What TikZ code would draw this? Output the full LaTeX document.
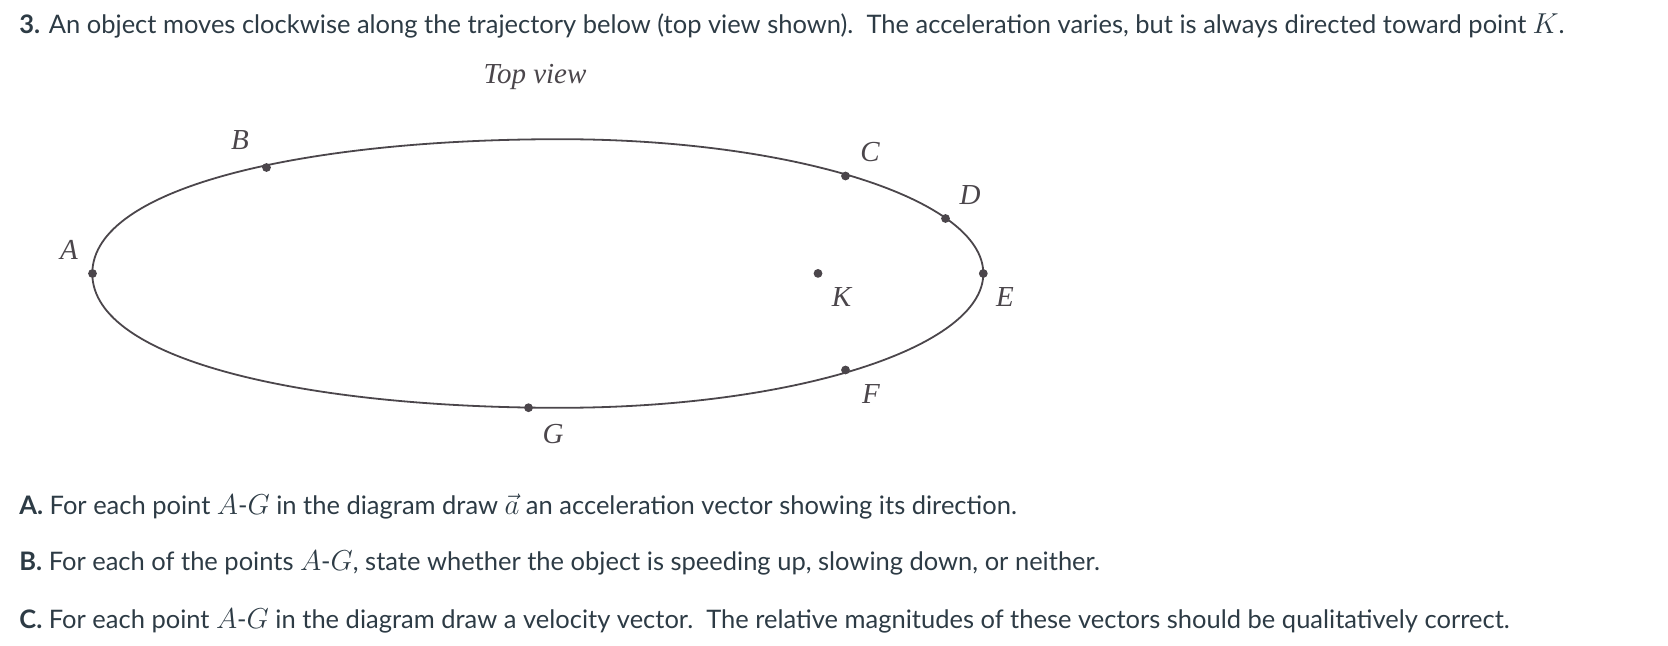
\documentclass[tikz,border=0pt]{standalone}
\usepackage{fontspec}
\setmainfont{Lato}
\newfontfamily\figfont{Liberation Serif}
\definecolor{txtcol}{HTML}{2D3B45}
\definecolor{pathcol}{HTML}{4B464B}
\newcommand{\mth}[1]{{\fontsize{14pt}{15pt}\selectfont$#1$}}
\tikzset{
    dot/.style={circle,fill=pathcol,inner sep=0pt,minimum size=4.4pt},
    lbl/.style={font=\figfont\itshape\fontsize{14.5pt}{17pt}\selectfont,text=pathcol,inner sep=0pt},
    qline/.style={anchor=base west,inner sep=0pt,text=txtcol,font=\fontsize{12.75pt}{15pt}\selectfont}
}
\begin{document}
\begin{tikzpicture}[x=0.5pt,y=-0.5pt]
        \useasboundingbox (0,0) rectangle (1668,646);
        %% question text
        \node[qline] (title) at (19,33.3) {\textbf{3.} An object moves clockwise along the trajectory below (top view shown).\ \ The acceleration varies, but is always directed toward point \mth{K}.};
        \node[lbl] (top) at (535,77) {Top view};
        %% trajectory
        \draw[pathcol,line width=0.9pt] (560,139.2) .. controls (310,139.2) and (92.3,185.5) .. (92.3,273.5)
            .. controls (92.3,361.5) and (310,407.8) .. (560,407.8)
            .. controls (793.6,407.8) and (983.3,347.7) .. (983.3,273.5)
            .. controls (983.3,199.3) and (793.6,139.2) .. (560,139.2) -- cycle;
        %% points on the path
        \node[dot] (A) at (92.5,273.5) {};
        \node[dot] (B) at (266.5,167.5) {};
        \node[dot] (C) at (845.5,176) {};
        \node[dot] (D) at (945.5,218.5) {};
        \node[dot] (E) at (983.3,273.5) {};
        \node[dot] (F) at (845.5,370) {};
        \node[dot] (G) at (528.5,407.7) {};
        \node[dot] (K) at (818,273.4) {};
        %% labels
        \node[lbl] (lA) at (69,250) {A};
        \node[lbl] (lB) at (240,140.5) {B};
        \node[lbl] (lC) at (870,152) {C};
        \node[lbl] (lD) at (970,195) {D};
        \node[lbl] (lE) at (1005,297) {E};
        \node[lbl] (lF) at (871,394) {F};
        \node[lbl] (lG) at (553,434) {G};
        \node[lbl] (lK) at (841.5,297) {K};
        %% parts
        \node[qline] (partA) at (19,514.3) {\textbf{A.} For each point \mth{A}-\mth{G} in the diagram draw \mth{\vec{a}} an acceleration vector showing its direction.};
        \node[qline] (partB) at (19,570.7) {\textbf{B.} For each of the points \mth{A}-\mth{G}, state whether the object is speeding up, slowing down, or neither.};
        \node[qline] (partC) at (19,628.1) {\textbf{C.} For each point \mth{A}-\mth{G} in the diagram draw a velocity vector.\ \ The relative magnitudes of these vectors should be qualitatively correct.};
    \end{tikzpicture}
\end{document}
